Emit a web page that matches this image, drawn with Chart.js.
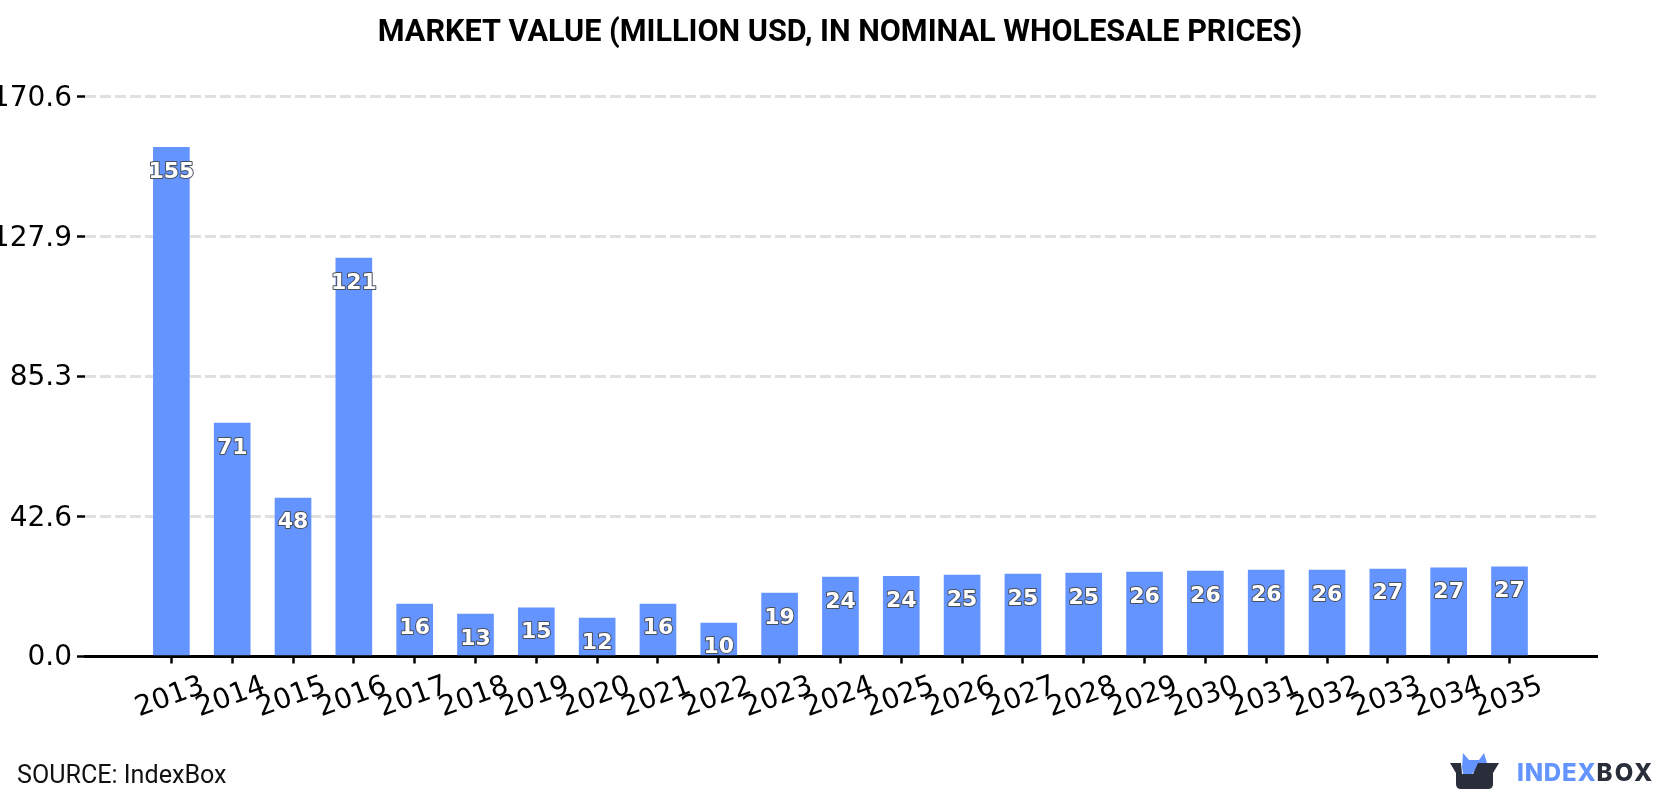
<!DOCTYPE html>
<html>
<head>
<meta charset="utf-8">
<title>Market value</title>
<script src="https://cdn.jsdelivr.net/npm/chart.js@4/dist/chart.umd.min.js"></script>
<style>
  html, body { margin: 0; padding: 0; background: #fff; overflow: hidden; }
  #wrap { position: relative; width: 1680px; height: 800px; overflow: hidden; }
  #source { position: absolute; left: 17px; top: 760px; font: 25.1px Roboto, sans-serif; color: #111; }
  #logo { position: absolute; left: 1450px; top: 753px; }
  #brand { position: absolute; left: 1517px; top: 758px; font: 800 24px Inter, sans-serif; letter-spacing: 2.2px; color: #2a2d3a; }
  #brand span { color: #6394ff; letter-spacing: 0.8px; }
</style>
</head>
<body>
<div id="wrap">
  <canvas id="marketChart" width="1680" height="800"></canvas>
  <div id="source">SOURCE: IndexBox</div>
  <svg id="logo" width="49" height="36" viewBox="0 0 49 36">
    <path d="M12 14 L13 0 L19 7 L29 7 L34 0 L37 10 L36 16 L26 16 L22 21 L13 21 Z" fill="#6394ff"/>
    <path d="M0 10 L11 10 L12 21 L23 21 L28 10 L49 10 L43 20 L43 31 Q43 36 38 36 L11 36 Q6 36 6 31 L6 20 Z" fill="#2a2d3a"/>
  </svg>
  <div id="brand"><span>INDEX</span>BOX</div>
</div>
<script>
'use strict';

const years = [2013, 2014, 2015, 2016, 2017, 2018, 2019, 2020, 2021, 2022, 2023, 2024,
  2025, 2026, 2027, 2028, 2029, 2030, 2031, 2032, 2033, 2034, 2035];
const marketValue = [155.2, 71.1, 48.3, 121.4, 16.0, 12.9, 14.8, 11.7, 16.0, 10.2, 19.3, 24.2,
  24.45, 24.8, 25.1, 25.4, 25.7, 26.0, 26.3, 26.3, 26.65, 27.0, 27.3];
const yTicks = [0, 42.6, 85.3, 127.9, 170.6];

const BAR_COLOR = '#6394ff';

// Value labels sit a fixed distance under the top of each bar, white with a dark outline
const barLabels = {
  id: 'barLabels',
  afterDatasetsDraw(chart){
    const ctx = chart.ctx;
    const meta = chart.getDatasetMeta(0);
    ctx.save();
    ctx.font = 'bold 22px "DejaVu Sans"';
    ctx.textAlign = 'center';
    ctx.textBaseline = 'middle';
    ctx.lineJoin = 'round';
    meta.data.forEach((bar, i)=>{
      const text = String(Math.round(marketValue[i]));
      ctx.lineWidth = 2;
      ctx.strokeStyle = '#4a4f5c';
      ctx.strokeText(text, bar.x, bar.y + 24.7);
      ctx.fillStyle = '#fff';
      ctx.fillText(text, bar.x, bar.y + 24.7);
    });
    ctx.restore();
  }
};

new Chart(document.getElementById('marketChart').getContext('2d'), {
  type: 'bar',
  data: {
    datasets: [{
      data: years.map((y, i)=> ({ x: y, y: marketValue[i] })),
      backgroundColor: BAR_COLOR,
      barThickness: 36,
      yAxisID: 'y'
    }]
  },
  plugins: [barLabels],
  options: {
    responsive: false,
    animation: false,
    layout: { padding: 0 },
    plugins: {
      legend: { display: false },
      tooltip: { enabled: false },
      title: {
        display: true,
        text: 'MARKET VALUE (MILLION USD, IN NOMINAL WHOLESALE PRICES)',
        color: '#000',
        font: { family: 'Roboto', size: 30.6, weight: 'bold', lineHeight: 1.2 },
        padding: { top: 15, bottom: 45 }
      }
    },
    scales: {
      x: {
        type: 'linear',
        offset: false,
        min: 2011.58,
        max: 2036.45,
        afterBuildTicks: (scale)=>{ scale.ticks = years.map(value=> ({ value })); },
        afterFit: (scale)=>{ scale.height = 143.5; },
        border: { color: '#000', width: 3 },
        grid: { offset: false, drawOnChartArea: false, tickColor: '#000', tickWidth: 2.5, tickLength: 7 },
        ticks: {
          autoSkip: false,
          minRotation: 20,
          maxRotation: 20,
          labelOffset: 32,
          padding: 6,
          color: '#000',
          font: { family: 'DejaVu Sans', size: 28 },
          callback: (v)=> String(v)
        }
      },
      y: {
        min: 0,
        max: 170.6,
        afterBuildTicks: (scale)=>{ scale.ticks = yTicks.map(value=> ({ value })); },
        afterFit: (scale)=>{ scale.width = 85; },
        border: { display: false, dash: [11, 4] },
        grid: { color: '#e0e0e0', lineWidth: 3, tickColor: '#000', tickWidth: 2.5, tickLength: 8 },
        ticks: {
          padding: 5,
          labelOffset: 1.5,
          color: '#000',
          font: { family: 'DejaVu Sans', size: 28 },
          callback: (v)=> Number(v).toFixed(1)
        }
      },
      // empty axis on the right, only reserves the margin beside the plot
      spacer: {
        position: 'right',
        afterFit: (scale)=>{ scale.width = 82.3; },
        border: { display: false },
        grid: { display: false },
        ticks: { display: false }
      }
    }
  }
});
</script>
</body>
</html>
